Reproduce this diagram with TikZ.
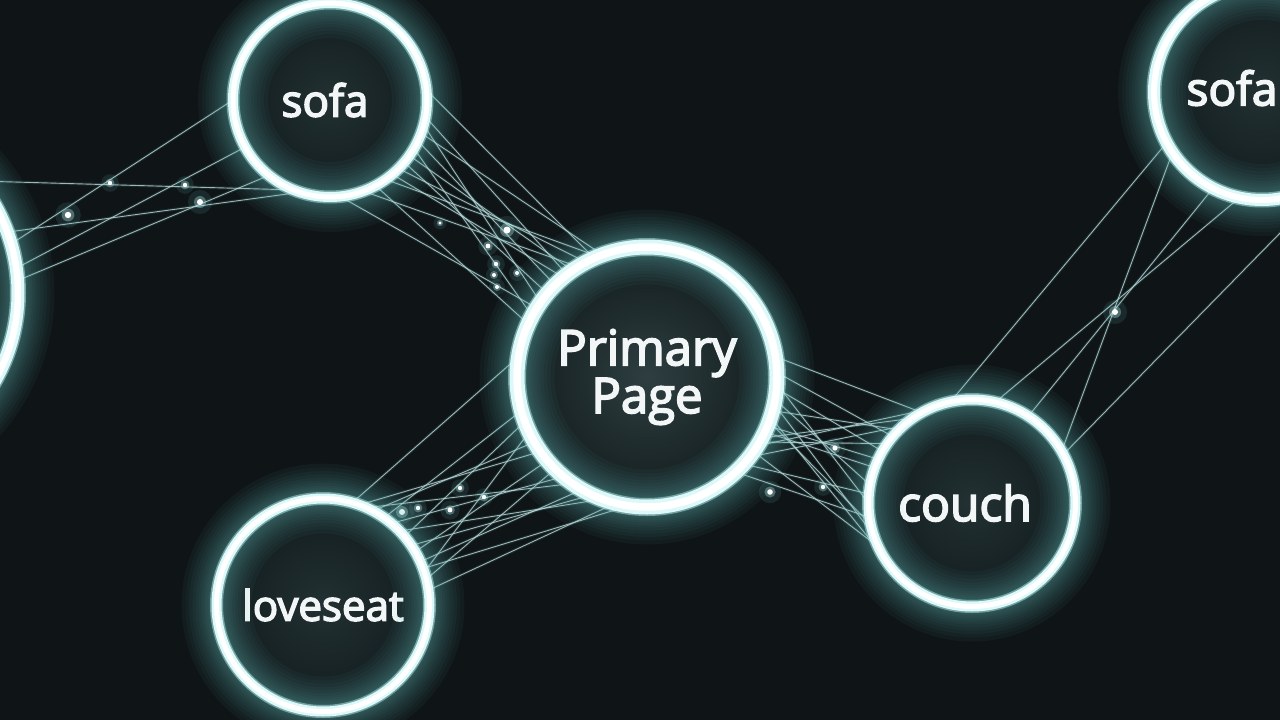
\documentclass[tikz,border=0pt]{standalone}
\usepackage{fontspec}
\newfontfamily\lblfont{Open Sans}[FakeBold=3.5]
\pgfdeclarelayer{bg}
\pgfdeclarelayer{lines}
\pgfsetlayers{bg,lines,main}
\definecolor{bgc}{HTML}{0F1517}
\definecolor{glowc}{HTML}{6FC8C8}
\definecolor{glowb}{HTML}{B8EEEE}
\definecolor{ringc}{HTML}{DDF8F8}
\definecolor{linec}{HTML}{C2DADA}
\definecolor{inA}{HTML}{223133}
\definecolor{inP}{HTML}{2E3F41}
\definecolor{inB}{HTML}{121B1D}
\definecolor{txt}{HTML}{F3F6F6}
\tikzset{
  bub/.style={circle, inner sep=0pt, outer sep=0pt, inner color=inA, outer color=inB, text=txt, align=center},
  lbl/.style={inner sep=0pt, text=txt},
  ln/.style={draw=linec, line width=0.9pt, opacity=0.8},
  lnglow/.style={draw=glowc, line width=3pt, opacity=0.12},
}
\newcommand{\glowring}[3]{%
  \foreach \ww in {60,52,45,38,32,26,21,16,12,8,5}
    \draw[glowc, opacity=0.045, line width=#3pt+\ww pt] (#1.center) circle[radius=#2pt];
  \draw[glowb, opacity=0.5, line width=#3pt+3pt] (#1.center) circle[radius=#2pt];
  \draw[ringc, line width=#3pt] (#1.center) circle[radius=#2pt];
  \draw[white, line width=#3pt*0.5] (#1.center) circle[radius=#2pt];
}
\newcommand{\gdot}[3]{%
  \fill[glowc, opacity=0.12] (#1,#2) circle[radius=#3pt*4];
  \fill[glowb, opacity=0.35] (#1,#2) circle[radius=#3pt*2];
  \fill[white] (#1,#2) circle[radius=#3pt];
}
\begin{document}
\begin{tikzpicture}[x=1pt,y=-1pt]
\useasboundingbox (0,0) rectangle (1280,720);
\clip (0,0) rectangle (1280,720);
\begin{pgfonlayer}{bg}
  \fill[bgc] (0,0) rectangle (1280,720);
\end{pgfonlayer}

% nodes
\node[bub, minimum size=194pt, font=\lblfont\fontsize{44}{44}\selectfont] (S1) at (330,100) {\hspace*{-10pt}sofa};
\node[bub, minimum size=260pt, inner color=inP, font=\lblfont\fontsize{49}{46}\selectfont] (PP) at (647,377) {Primary\\Page};
\node[bub, minimum size=207pt, font=\lblfont\fontsize{48}{48}\selectfont] (C) at (972,503) {couch\hspace*{14pt}};
\node[bub, minimum size=213pt, font=\lblfont\fontsize{42}{42}\selectfont] (LS) at (323,605) {loveseat};
\node[bub, minimum size=216pt] (R) at (1262,92) {};
\node[bub, minimum size=356pt] (L) at (-160,293) {};
\node[lbl, font=\lblfont\fontsize{46}{46}\selectfont] (Rl) at (1232,88) {sofa};

% connectors
\begin{pgfonlayer}{lines}
  % sofa -- primary page
  \foreach \a/\b in {-84/148, 6/114, -20/110, -35/125, -40/140, -45/118, -30/152, -25/135, -50/130, -15/145, -55/112, -62/156, -10/128, -70/122}{
    \draw[lnglow] (S1.\a) -- (PP.\b);
    \draw[ln] (S1.\a) -- (PP.\b);
  }
  % left circle -- sofa
  \foreach \a/\b in {39/-112, 20/-108, 16/180, 8/-151, 4/-129}{
    \draw[lnglow] (L.\a) -- (S1.\b);
    \draw[ln] (L.\a) -- (S1.\b);
  }
  % primary page -- loveseat
  \foreach \a/\b in {171/74, 200/40, 210/62, 220/30, 230/50, 240/24, 250/44, 205/18, 215/70, 235/66, 245/34, 195/55, 256/8, 225/14, 262/20}{
    \draw[lnglow] (PP.\a) -- (LS.\b);
    \draw[ln] (PP.\a) -- (LS.\b);
  }
  % primary page -- couch
  \foreach \a/\b in {9/119, -5/150, -10/170, -15/135, -20/192, -25/160, -30/145, -35/205, -3/180, -18/210, -28/125, -42/175, -12/198, -38/132, -22/155, -47/188, 2/140, -32/115}{
    \draw[lnglow] (PP.\a) -- (C.\b);
    \draw[ln] (PP.\a) -- (C.\b);
  }
  % couch -- right sofa
  \coordinate (Rout) at (1330,182);
  \foreach \a/\b in {102/-152, 77/-102, 57/-117, 30/-146}{
    \draw[lnglow] (C.\a) -- (R.\b);
    \draw[ln] (C.\a) -- (R.\b);
  }
  \draw[lnglow] (C.28) -- (Rout);
  \draw[ln] (C.28) -- (Rout);
  % glowing junction dots
  \gdot{68}{215}{3.2}
  \gdot{110}{183}{2.2}
  \gdot{185}{185}{2.2}
  \gdot{200}{202}{3}
  \gdot{507}{230}{3.5}
  \gdot{488}{246}{2.4}
  \gdot{496}{264}{2.2}
  \gdot{494}{275}{2}
  \gdot{497}{287}{2}
  \gdot{517}{273}{2}
  \gdot{440}{223}{1.6}
  \gdot{402}{512}{3}
  \gdot{418}{508}{2.2}
  \gdot{450}{510}{2.4}
  \gdot{460}{488}{2.2}
  \gdot{484}{497}{2.2}
  \gdot{835}{448}{2.6}
  \gdot{823}{487}{2.2}
  \gdot{770}{492}{2.8}
  \gdot{1115}{312}{3}
\end{pgfonlayer}

% glowing rings
\glowring{S1}{97}{10}
\glowring{PP}{130}{15}
\glowring{C}{103.5}{10}
\glowring{LS}{106.5}{10}
\glowring{R}{108}{12}
\glowring{L}{178}{13}
\end{tikzpicture}
\end{document}
